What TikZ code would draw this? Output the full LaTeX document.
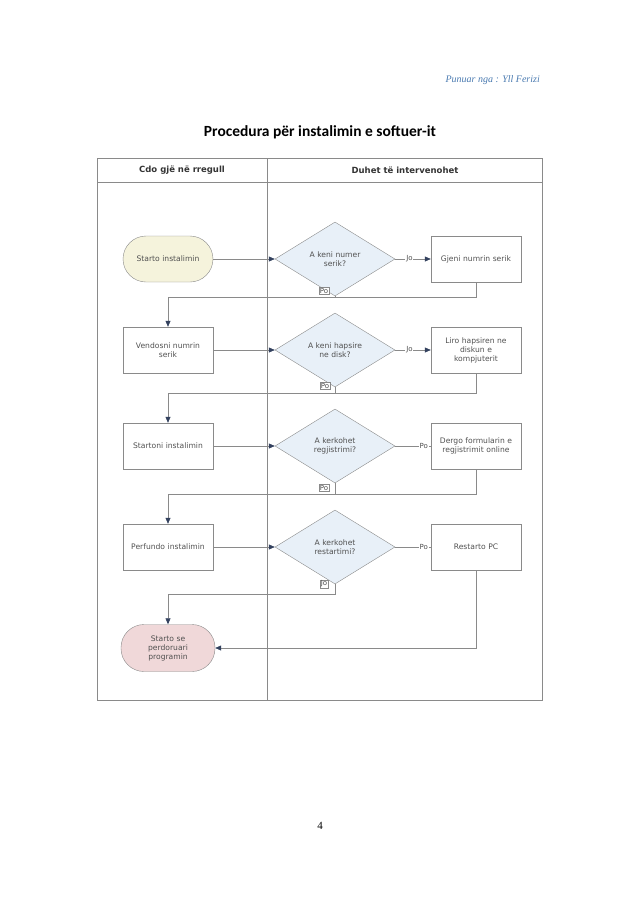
\documentclass[tikz,border=0pt]{standalone}
\usepackage{fontspec}
\setmainfont{DejaVu Sans}
\newfontfamily\calib{Carlito}
\newfontfamily\lserif{Liberation Serif}
\usetikzlibrary{shapes.geometric,arrows.meta}
\definecolor{ln}{HTML}{8A8A8A}
\definecolor{arr}{HTML}{33415E}
\definecolor{txt}{HTML}{505050}
\definecolor{dfill}{HTML}{E8F0F8}
\definecolor{sfill}{HTML}{F5F3DC}
\definecolor{efill}{HTML}{F0D8D9}
\definecolor{auth}{HTML}{4A7AB0}
\begin{document}
\begin{tikzpicture}[x=1pt,y=-1pt,
  every node/.style={font=\fontsize{7.6}{9}\selectfont,text=txt,align=center,inner sep=1pt},
  box/.style={draw=ln,minimum width=90pt,minimum height=46pt,text width=86pt},
  oval/.style={draw=ln,rounded corners=23pt,minimum width=90pt,minimum height=46pt,text width=82pt},
  dia/.style={draw=ln,diamond,aspect=1.6,fill=dfill,minimum width=120pt,minimum height=74pt,inner sep=0pt,text width=66pt},
  con/.style={draw=ln,line width=0.6pt},
  ar/.style={con,-{Triangle[length=6pt,width=5pt,color=arr,fill=arr]}},
  lab/.style={draw=ln,fill=white,inner sep=0.8pt,font=\fontsize{7}{8}\selectfont},
  rl/.style={fill=white,inner sep=0.8pt,font=\fontsize{7}{8}\selectfont}]
\useasboundingbox (0,0) rectangle (638,903);
\node[font=\lserif\itshape\fontsize{10}{12}\selectfont,text=auth,anchor=east] (au) at (541,80) {Punuar nga : Yll Ferizi};
\node[font=\calib\bfseries\fontsize{15.5}{18}\selectfont,text=black] (title) at (320,132) {Procedura për instalimin e softuer-it};
\node[font=\lserif\fontsize{11}{12}\selectfont,text=black] (pg) at (320,826) {4};
\draw[draw=ln,line width=0.9pt] (97,158) rectangle (542,700);
\draw[draw=ln,line width=0.6pt] (97,182) -- (542,182);
\draw[draw=ln,line width=0.6pt] (267,158) -- (267,700);
\node[font=\bfseries\fontsize{8.5}{10}\selectfont,text=black!80] (h1) at (182,170) {Cdo gjë në rregull};
\node[font=\bfseries\fontsize{8.5}{10}\selectfont,text=black!80] (h2) at (405,170) {Duhet të intervenohet};
% row 1
\node[oval,fill=sfill] (s) at (168,259) {Starto instalimin};
\node[dia] (d1) at (335,259) {A keni numer\\serik?};
\node[box] (b1) at (476,259) {Gjeni numrin serik};
% row 2
\node[box] (a2) at (168,350) {Vendosni numrin\\serik};
\node[dia] (d2) at (335,350) {A keni hapsire\\ne disk?};
\node[box] (b2) at (476,350) {Liro hapsiren ne\\diskun e\\kompjuterit};
% row 3
\node[box] (a3) at (168,446) {Startoni instalimin};
\node[dia] (d3) at (335,446) {A kerkohet\\regjistrimi?};
\node[box] (b3) at (476,446) {Dergo formularin e\\regjistrimit online};
% row 4
\node[box] (a4) at (168,547) {Perfundo instalimin};
\node[dia] (d4) at (335,547) {A kerkohet\\restartimi?};
\node[box] (b4) at (476,547) {Restarto PC};
\node[oval,fill=efill,minimum width=94pt,minimum height=47pt] (e) at (168,648) {Starto se\\perdoruari\\programin};
% horizontal connections
\draw[ar] (s) -- (d1.west);
\draw[ar] (a2) -- (d2.west);
\draw[ar] (a3) -- (d3.west);
\draw[ar] (a4) -- (d4.west);
\draw[ar] (d1.east) -- node[rl,pos=0.4]{Jo} (b1.west);
\draw[ar] (d2.east) -- node[rl,pos=0.4]{Jo} (b2.west);
\draw[con] (d3.east) -- node[rl,pos=0.8]{Po} (b3.west);
\draw[con] (d4.east) -- node[rl,pos=0.8]{Po} (b4.west);
% down connections
\coordinate (j1) at (335,297); \coordinate (j2) at (335,393);
\coordinate (j3) at (335,494); \coordinate (j4) at (335,594);
\draw[ar] (d1.south) -- (j1) -- (168,297) -- (a2.north);
\draw[con] (b1.south) |- (j1);
\draw[ar] (d2.south) -- (j2) -- (168,393) -- (a3.north);
\draw[con] (b2.south) |- (j2);
\draw[ar] (d3.south) -- (j3) -- (168,494) -- (a4.north);
\draw[con] (b3.south) |- (j3);
\draw[ar] (d4.south) -- (j4) -- (168,594) -- (e.north);
\draw[ar] (b4.south) |- (e.east);
\node[lab] (p1) at (324,291) {Po};
\node[lab] (p2) at (325,386) {Po};
\node[lab] (p3) at (324,488) {Po};
\node[lab] (p4) at (324,584) {Jo};
\end{tikzpicture}
\end{document}
